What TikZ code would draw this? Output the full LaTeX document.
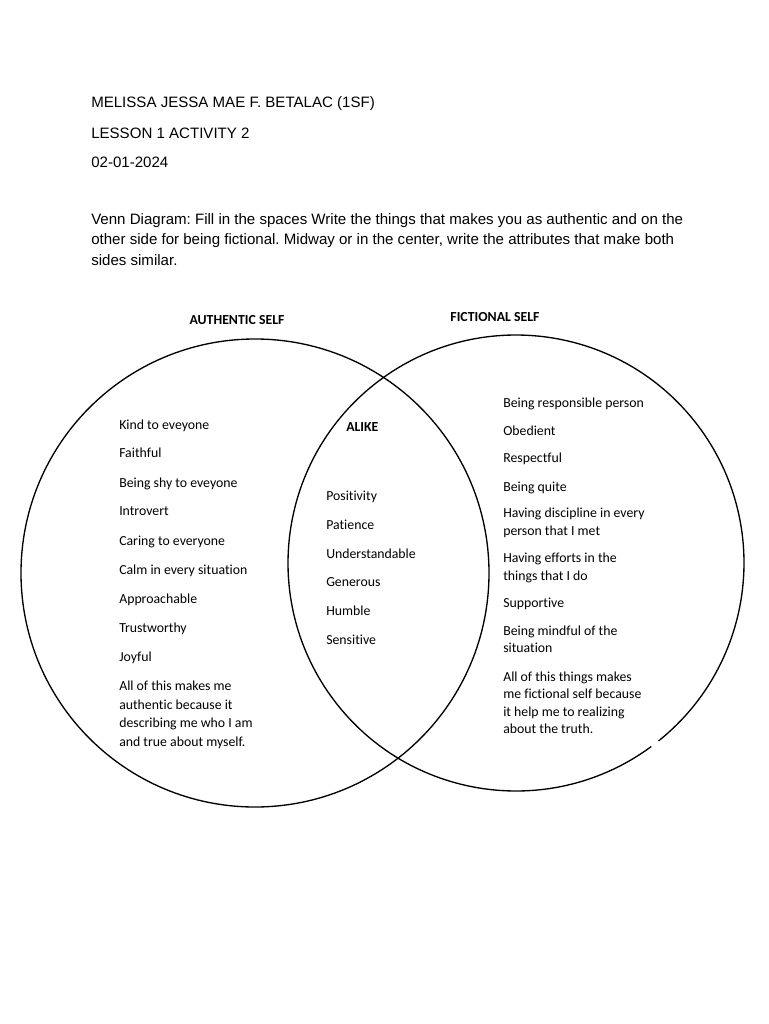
\documentclass[tikz,border=0pt]{standalone}
\usepackage{fontspec}
\setmainfont{Carlito}[Ligatures={NoCommon}]
\newfontfamily\arialf{Liberation Sans}[Ligatures={NoCommon}]
\frenchspacing
\begin{document}
\frenchspacing
\begin{tikzpicture}[x=0.75pt,y=-0.75pt,
  hdr/.style={anchor=base west, inner sep=0pt, font=\arialf\fontsize{11.3}{13}\selectfont, text=black},
  item/.style={anchor=base west, inner sep=0pt, font=\fontsize{10.35}{12}\selectfont, text=black},
  ttl/.style={anchor=base, inner sep=0pt, font=\bfseries\fontsize{10.35}{12}\selectfont, text=black},
  ring/.style={line width=1pt, draw=black}]
\useasboundingbox (0,0) rectangle (768,1024);
\fill[white] (0,0) rectangle (768,1024);
% header
\node[hdr] (h1) at (91,107.5) {MELISSA JESSA MAE F. BETALAC (1SF)};
\node[hdr] (h2) at (91,138) {LESSON 1 ACTIVITY 2};
\node[hdr] (h3) at (91,167) {02-01-2024};
\node[hdr] (p1) at (91,224) {Venn Diagram: Fill in the spaces Write the things that makes you as authentic and on the};
\node[hdr] (p2) at (91,244.5) {other side for being fictional. Midway or in the center, write the attributes that make both};
\node[hdr] (p3) at (91,265) {sides similar.};
% circles
\node[ring, circle, minimum size=351pt, inner sep=0pt] (authentic) at (255,573) {};
\coordinate (fc) at (516,563);
\draw[ring] (fc) ++(-51.3:171pt) arc[start angle=-51.3, end angle=306.4, radius=171pt];
% titles
\node[ttl] (tA) at (237,324.5) {AUTHENTIC SELF};
\node[ttl] (tF) at (495,321.5) {FICTIONAL SELF};
\node[ttl, anchor=base west] (tM) at (346,431) {ALIKE};
% left list
\foreach \yy/\tt [count=\i] in {429/Kind to eveyone, 457.3/Faithful, 487/Being shy to eveyone, 515.7/Introvert, 545/Caring to everyone, 574.3/Calm in every situation, 603.3/Approachable, 632.7/Trustworthy, 661/Joyful, 690/All of this makes me, 709/authentic because it, 727.7/describing me who I am, 746.7/and true about myself.}
  \node[item] (a\i) at (119,\yy) {\tt};
% center list
\foreach \yy/\tt [count=\i] in {500/Positivity, 529/Patience, 558/Understandable, 586.7/Generous, 615.7/Humble, 644/Sensitive}
  \node[item] (c\i) at (326,\yy) {\tt};
% right list
\foreach \yy/\tt [count=\i] in {407.7/Being responsible person, 435/Obedient, 462.7/Respectful, 491/Being quite, 517.7/Having discipline in every, 535/person that I met, 562.7/Having efforts in the, 580/things that I do, 607.7/Supportive, 635/Being mindful of the, 652.7/situation, 681/All of this things makes, 698/me fictional self because, 716/it help me to realizing, 733/about the truth.}
  \node[item] (f\i) at (503,\yy) {\tt};
\end{tikzpicture}
\end{document}
